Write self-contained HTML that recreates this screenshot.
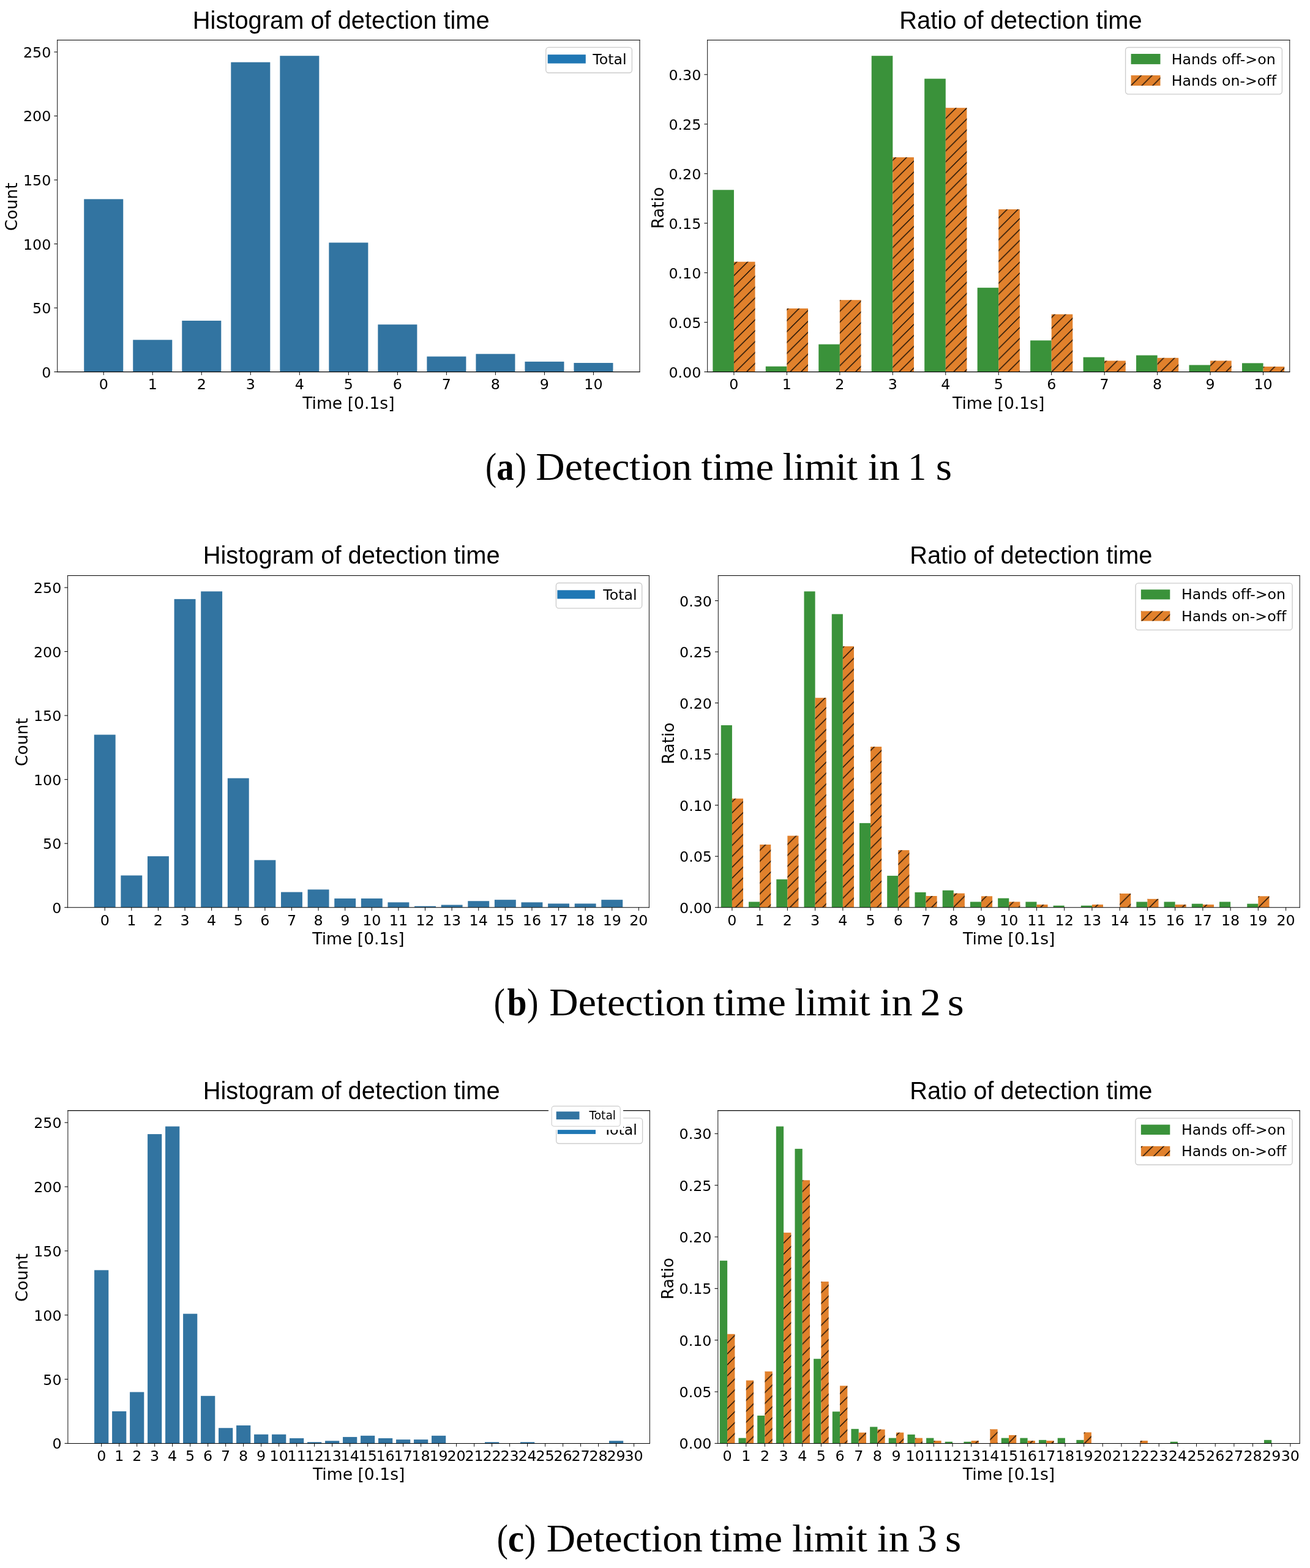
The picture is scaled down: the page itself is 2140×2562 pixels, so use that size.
<!DOCTYPE html>
<html><head><meta charset="utf-8"><title>Detection time figure</title>
<style>html,body{margin:0;padding:0;background:#fff;} body{width:2140px;height:2562px;overflow:hidden;} svg{display:block;} text{font-variant-ligatures:none;font-kerning:normal;}</style>
</head><body>
<svg width="2140" height="2562" viewBox="0 0 2140 2562"><defs><pattern id="h1" patternUnits="userSpaceOnUse" x="11.6" y="0" width="17.8" height="17.8"><path d="M-8.9,8.9 L8.9,-8.9 M0,17.8 L17.8,0 M8.9,26.700000000000003 L26.700000000000003,8.9" stroke="#000" stroke-width="1.3" fill="none"/></pattern><pattern id="h2" patternUnits="userSpaceOnUse" x="14.1" y="0" width="17.8" height="17.8"><path d="M-8.9,8.9 L8.9,-8.9 M0,17.8 L17.8,0 M8.9,26.700000000000003 L26.700000000000003,8.9" stroke="#000" stroke-width="1.3" fill="none"/></pattern><pattern id="h3" patternUnits="userSpaceOnUse" x="0.4" y="0" width="17.8" height="17.8"><path d="M-8.9,8.9 L8.9,-8.9 M0,17.8 L17.8,0 M8.9,26.700000000000003 L26.700000000000003,8.9" stroke="#000" stroke-width="1.3" fill="none"/></pattern></defs><rect width="2140" height="2562" fill="#ffffff"/><rect x="137.23" y="325.37" width="64.02" height="282.23" fill="#3274a1"/>
<rect x="217.25" y="555.33" width="64.02" height="52.27" fill="#3274a1"/>
<rect x="297.28" y="523.98" width="64.02" height="83.62" fill="#3274a1"/>
<rect x="377.3" y="101.67" width="64.02" height="505.93" fill="#3274a1"/>
<rect x="457.32" y="91.22" width="64.02" height="516.38" fill="#3274a1"/>
<rect x="537.34" y="396.45" width="64.02" height="211.15" fill="#3274a1"/>
<rect x="617.36" y="530.25" width="64.02" height="77.35" fill="#3274a1"/>
<rect x="697.38" y="582.51" width="64.02" height="25.09" fill="#3274a1"/>
<rect x="777.41" y="578.33" width="64.02" height="29.27" fill="#3274a1"/>
<rect x="857.43" y="590.88" width="64.02" height="16.72" fill="#3274a1"/>
<rect x="937.45" y="592.97" width="64.02" height="14.63" fill="#3274a1"/>
<path d="M93.23,65.4H1045.47M93.23,607.6H1045.47" stroke="#000000" stroke-width="1.05" fill="none"/>
<path d="M93.7,64.88V608.12M1045,64.88V608.12" stroke="#000000" stroke-width="0.95" fill="none"/>
<line x1="88.4" y1="607.6" x2="93.7" y2="607.6" stroke="#000000" stroke-width="1.05"/>
<text x="83.4" y="616.6" font-family='"DejaVu Sans", sans-serif' font-size="23.8" text-anchor="end">0</text>
<line x1="88.4" y1="503.07" x2="93.7" y2="503.07" stroke="#000000" stroke-width="1.05"/>
<text x="83.4" y="512.07" font-family='"DejaVu Sans", sans-serif' font-size="23.8" text-anchor="end">50</text>
<line x1="88.4" y1="398.54" x2="93.7" y2="398.54" stroke="#000000" stroke-width="1.05"/>
<text x="83.4" y="407.54" font-family='"DejaVu Sans", sans-serif' font-size="23.8" text-anchor="end">100</text>
<line x1="88.4" y1="294.01" x2="93.7" y2="294.01" stroke="#000000" stroke-width="1.05"/>
<text x="83.4" y="303.01" font-family='"DejaVu Sans", sans-serif' font-size="23.8" text-anchor="end">150</text>
<line x1="88.4" y1="189.48" x2="93.7" y2="189.48" stroke="#000000" stroke-width="1.05"/>
<text x="83.4" y="198.48" font-family='"DejaVu Sans", sans-serif' font-size="23.8" text-anchor="end">200</text>
<line x1="88.4" y1="84.95" x2="93.7" y2="84.95" stroke="#000000" stroke-width="1.05"/>
<text x="83.4" y="93.95" font-family='"DejaVu Sans", sans-serif' font-size="23.8" text-anchor="end">250</text>
<line x1="169.24" y1="607.6" x2="169.24" y2="612.9" stroke="#000000" stroke-width="0.95"/>
<text x="169.24" y="636.4" font-family='"DejaVu Sans", sans-serif' font-size="23.8" text-anchor="middle">0</text>
<line x1="249.26" y1="607.6" x2="249.26" y2="612.9" stroke="#000000" stroke-width="0.95"/>
<text x="249.26" y="636.4" font-family='"DejaVu Sans", sans-serif' font-size="23.8" text-anchor="middle">1</text>
<line x1="329.28" y1="607.6" x2="329.28" y2="612.9" stroke="#000000" stroke-width="0.95"/>
<text x="329.28" y="636.4" font-family='"DejaVu Sans", sans-serif' font-size="23.8" text-anchor="middle">2</text>
<line x1="409.31" y1="607.6" x2="409.31" y2="612.9" stroke="#000000" stroke-width="0.95"/>
<text x="409.31" y="636.4" font-family='"DejaVu Sans", sans-serif' font-size="23.8" text-anchor="middle">3</text>
<line x1="489.33" y1="607.6" x2="489.33" y2="612.9" stroke="#000000" stroke-width="0.95"/>
<text x="489.33" y="636.4" font-family='"DejaVu Sans", sans-serif' font-size="23.8" text-anchor="middle">4</text>
<line x1="569.35" y1="607.6" x2="569.35" y2="612.9" stroke="#000000" stroke-width="0.95"/>
<text x="569.35" y="636.4" font-family='"DejaVu Sans", sans-serif' font-size="23.8" text-anchor="middle">5</text>
<line x1="649.37" y1="607.6" x2="649.37" y2="612.9" stroke="#000000" stroke-width="0.95"/>
<text x="649.37" y="636.4" font-family='"DejaVu Sans", sans-serif' font-size="23.8" text-anchor="middle">6</text>
<line x1="729.39" y1="607.6" x2="729.39" y2="612.9" stroke="#000000" stroke-width="0.95"/>
<text x="729.39" y="636.4" font-family='"DejaVu Sans", sans-serif' font-size="23.8" text-anchor="middle">7</text>
<line x1="809.42" y1="607.6" x2="809.42" y2="612.9" stroke="#000000" stroke-width="0.95"/>
<text x="809.42" y="636.4" font-family='"DejaVu Sans", sans-serif' font-size="23.8" text-anchor="middle">8</text>
<line x1="889.44" y1="607.6" x2="889.44" y2="612.9" stroke="#000000" stroke-width="0.95"/>
<text x="889.44" y="636.4" font-family='"DejaVu Sans", sans-serif' font-size="23.8" text-anchor="middle">9</text>
<line x1="969.46" y1="607.6" x2="969.46" y2="612.9" stroke="#000000" stroke-width="0.95"/>
<text x="969.46" y="636.4" font-family='"DejaVu Sans", sans-serif' font-size="23.8" text-anchor="middle">10</text>
<text x="569.35" y="667.5" font-family='"DejaVu Sans", sans-serif' font-size="26.6" text-anchor="middle">Time [0.1s]</text>
<text transform="translate(27.9,337.75) rotate(-90)" font-family='"DejaVu Sans", sans-serif' font-size="26.6" text-anchor="middle">Count</text>
<rect x="1164.35" y="310.3" width="34.59" height="297.3" fill="#3a923a"/>
<rect x="1250.81" y="598.69" width="34.59" height="8.91" fill="#3a923a"/>
<rect x="1337.27" y="562.58" width="34.59" height="45.02" fill="#3a923a"/>
<rect x="1423.74" y="91.22" width="34.59" height="516.38" fill="#3a923a"/>
<rect x="1510.2" y="128.62" width="34.59" height="478.98" fill="#3a923a"/>
<rect x="1596.66" y="470.13" width="34.59" height="137.47" fill="#3a923a"/>
<rect x="1683.13" y="556.27" width="34.59" height="51.33" fill="#3a923a"/>
<rect x="1769.59" y="583.64" width="34.59" height="23.96" fill="#3a923a"/>
<rect x="1856.06" y="580.56" width="34.59" height="27.04" fill="#3a923a"/>
<rect x="1942.52" y="596.43" width="34.59" height="11.17" fill="#3a923a"/>
<rect x="2028.98" y="593.35" width="34.59" height="14.25" fill="#3a923a"/>
<rect x="1198.93" y="427.7" width="34.59" height="179.9" fill="#e1812c"/>
<rect x="1198.93" y="427.7" width="34.59" height="179.9" fill="url(#h1)"/>
<rect x="1285.4" y="503.97" width="34.59" height="103.63" fill="#e1812c"/>
<rect x="1285.4" y="503.97" width="34.59" height="103.63" fill="url(#h1)"/>
<rect x="1371.86" y="490.2" width="34.59" height="117.4" fill="#e1812c"/>
<rect x="1371.86" y="490.2" width="34.59" height="117.4" fill="url(#h1)"/>
<rect x="1458.32" y="257.03" width="34.59" height="350.57" fill="#e1812c"/>
<rect x="1458.32" y="257.03" width="34.59" height="350.57" fill="url(#h1)"/>
<rect x="1544.79" y="176.23" width="34.59" height="431.37" fill="#e1812c"/>
<rect x="1544.79" y="176.23" width="34.59" height="431.37" fill="url(#h1)"/>
<rect x="1631.25" y="342.04" width="34.59" height="265.56" fill="#e1812c"/>
<rect x="1631.25" y="342.04" width="34.59" height="265.56" fill="url(#h1)"/>
<rect x="1717.71" y="513.52" width="34.59" height="94.08" fill="#e1812c"/>
<rect x="1717.71" y="513.52" width="34.59" height="94.08" fill="url(#h1)"/>
<rect x="1804.18" y="589.46" width="34.59" height="18.14" fill="#e1812c"/>
<rect x="1804.18" y="589.46" width="34.59" height="18.14" fill="url(#h1)"/>
<rect x="1890.64" y="584.77" width="34.59" height="22.83" fill="#e1812c"/>
<rect x="1890.64" y="584.77" width="34.59" height="22.83" fill="url(#h1)"/>
<rect x="1977.1" y="589.46" width="34.59" height="18.14" fill="#e1812c"/>
<rect x="1977.1" y="589.46" width="34.59" height="18.14" fill="url(#h1)"/>
<rect x="2063.57" y="599.02" width="34.59" height="8.58" fill="#e1812c"/>
<rect x="2063.57" y="599.02" width="34.59" height="8.58" fill="url(#h1)"/>
<path d="M1155.23,65.4H2107.28M1155.23,607.6H2107.28" stroke="#000000" stroke-width="1.05" fill="none"/>
<path d="M1155.7,64.88V608.12M2106.8,64.88V608.12" stroke="#000000" stroke-width="0.95" fill="none"/>
<line x1="1150.4" y1="607.6" x2="1155.7" y2="607.6" stroke="#000000" stroke-width="1.05"/>
<text x="1145.4" y="616.6" font-family='"DejaVu Sans", sans-serif' font-size="23.8" text-anchor="end">0.00</text>
<line x1="1150.4" y1="526.64" x2="1155.7" y2="526.64" stroke="#000000" stroke-width="1.05"/>
<text x="1145.4" y="535.64" font-family='"DejaVu Sans", sans-serif' font-size="23.8" text-anchor="end">0.05</text>
<line x1="1150.4" y1="445.67" x2="1155.7" y2="445.67" stroke="#000000" stroke-width="1.05"/>
<text x="1145.4" y="454.67" font-family='"DejaVu Sans", sans-serif' font-size="23.8" text-anchor="end">0.10</text>
<line x1="1150.4" y1="364.71" x2="1155.7" y2="364.71" stroke="#000000" stroke-width="1.05"/>
<text x="1145.4" y="373.71" font-family='"DejaVu Sans", sans-serif' font-size="23.8" text-anchor="end">0.15</text>
<line x1="1150.4" y1="283.75" x2="1155.7" y2="283.75" stroke="#000000" stroke-width="1.05"/>
<text x="1145.4" y="292.75" font-family='"DejaVu Sans", sans-serif' font-size="23.8" text-anchor="end">0.20</text>
<line x1="1150.4" y1="202.79" x2="1155.7" y2="202.79" stroke="#000000" stroke-width="1.05"/>
<text x="1145.4" y="211.79" font-family='"DejaVu Sans", sans-serif' font-size="23.8" text-anchor="end">0.25</text>
<line x1="1150.4" y1="121.82" x2="1155.7" y2="121.82" stroke="#000000" stroke-width="1.05"/>
<text x="1145.4" y="130.82" font-family='"DejaVu Sans", sans-serif' font-size="23.8" text-anchor="end">0.30</text>
<line x1="1198.93" y1="607.6" x2="1198.93" y2="612.9" stroke="#000000" stroke-width="0.95"/>
<text x="1198.93" y="636.4" font-family='"DejaVu Sans", sans-serif' font-size="23.8" text-anchor="middle">0</text>
<line x1="1285.4" y1="607.6" x2="1285.4" y2="612.9" stroke="#000000" stroke-width="0.95"/>
<text x="1285.4" y="636.4" font-family='"DejaVu Sans", sans-serif' font-size="23.8" text-anchor="middle">1</text>
<line x1="1371.86" y1="607.6" x2="1371.86" y2="612.9" stroke="#000000" stroke-width="0.95"/>
<text x="1371.86" y="636.4" font-family='"DejaVu Sans", sans-serif' font-size="23.8" text-anchor="middle">2</text>
<line x1="1458.32" y1="607.6" x2="1458.32" y2="612.9" stroke="#000000" stroke-width="0.95"/>
<text x="1458.32" y="636.4" font-family='"DejaVu Sans", sans-serif' font-size="23.8" text-anchor="middle">3</text>
<line x1="1544.79" y1="607.6" x2="1544.79" y2="612.9" stroke="#000000" stroke-width="0.95"/>
<text x="1544.79" y="636.4" font-family='"DejaVu Sans", sans-serif' font-size="23.8" text-anchor="middle">4</text>
<line x1="1631.25" y1="607.6" x2="1631.25" y2="612.9" stroke="#000000" stroke-width="0.95"/>
<text x="1631.25" y="636.4" font-family='"DejaVu Sans", sans-serif' font-size="23.8" text-anchor="middle">5</text>
<line x1="1717.71" y1="607.6" x2="1717.71" y2="612.9" stroke="#000000" stroke-width="0.95"/>
<text x="1717.71" y="636.4" font-family='"DejaVu Sans", sans-serif' font-size="23.8" text-anchor="middle">6</text>
<line x1="1804.18" y1="607.6" x2="1804.18" y2="612.9" stroke="#000000" stroke-width="0.95"/>
<text x="1804.18" y="636.4" font-family='"DejaVu Sans", sans-serif' font-size="23.8" text-anchor="middle">7</text>
<line x1="1890.64" y1="607.6" x2="1890.64" y2="612.9" stroke="#000000" stroke-width="0.95"/>
<text x="1890.64" y="636.4" font-family='"DejaVu Sans", sans-serif' font-size="23.8" text-anchor="middle">8</text>
<line x1="1977.1" y1="607.6" x2="1977.1" y2="612.9" stroke="#000000" stroke-width="0.95"/>
<text x="1977.1" y="636.4" font-family='"DejaVu Sans", sans-serif' font-size="23.8" text-anchor="middle">9</text>
<line x1="2063.57" y1="607.6" x2="2063.57" y2="612.9" stroke="#000000" stroke-width="0.95"/>
<text x="2063.57" y="636.4" font-family='"DejaVu Sans", sans-serif' font-size="23.8" text-anchor="middle">10</text>
<text x="1631.25" y="667.5" font-family='"DejaVu Sans", sans-serif' font-size="26.6" text-anchor="middle">Time [0.1s]</text>
<text transform="translate(1084.2,339.7) rotate(-90)" font-family='"DejaVu Sans", sans-serif' font-size="26.6" text-anchor="middle">Ratio</text>
<rect x="153.77" y="1200.47" width="34.89" height="282.23" fill="#3274a1"/>
<rect x="197.38" y="1430.43" width="34.89" height="52.27" fill="#3274a1"/>
<rect x="240.99" y="1399.08" width="34.89" height="83.62" fill="#3274a1"/>
<rect x="284.6" y="978.86" width="34.89" height="503.84" fill="#3274a1"/>
<rect x="328.21" y="966.32" width="34.89" height="516.38" fill="#3274a1"/>
<rect x="371.82" y="1271.55" width="34.89" height="211.15" fill="#3274a1"/>
<rect x="415.43" y="1405.35" width="34.89" height="77.35" fill="#3274a1"/>
<rect x="459.03" y="1457.61" width="34.89" height="25.09" fill="#3274a1"/>
<rect x="502.64" y="1453.43" width="34.89" height="29.27" fill="#3274a1"/>
<rect x="546.25" y="1468.07" width="34.89" height="14.63" fill="#3274a1"/>
<rect x="589.86" y="1468.07" width="34.89" height="14.63" fill="#3274a1"/>
<rect x="633.47" y="1474.34" width="34.89" height="8.36" fill="#3274a1"/>
<rect x="677.08" y="1480.61" width="34.89" height="2.09" fill="#3274a1"/>
<rect x="720.69" y="1478.52" width="34.89" height="4.18" fill="#3274a1"/>
<rect x="764.3" y="1472.25" width="34.89" height="10.45" fill="#3274a1"/>
<rect x="807.9" y="1470.16" width="34.89" height="12.54" fill="#3274a1"/>
<rect x="851.51" y="1474.34" width="34.89" height="8.36" fill="#3274a1"/>
<rect x="895.12" y="1476.43" width="34.89" height="6.27" fill="#3274a1"/>
<rect x="938.73" y="1476.43" width="34.89" height="6.27" fill="#3274a1"/>
<rect x="982.34" y="1470.16" width="34.89" height="12.54" fill="#3274a1"/>
<path d="M110.12,940.5H1060.88M110.12,1482.7H1060.88" stroke="#000000" stroke-width="1.05" fill="none"/>
<path d="M110.6,939.98V1483.23M1060.4,939.98V1483.23" stroke="#000000" stroke-width="0.95" fill="none"/>
<line x1="105.3" y1="1482.7" x2="110.6" y2="1482.7" stroke="#000000" stroke-width="1.05"/>
<text x="100.3" y="1491.7" font-family='"DejaVu Sans", sans-serif' font-size="23.8" text-anchor="end">0</text>
<line x1="105.3" y1="1378.17" x2="110.6" y2="1378.17" stroke="#000000" stroke-width="1.05"/>
<text x="100.3" y="1387.17" font-family='"DejaVu Sans", sans-serif' font-size="23.8" text-anchor="end">50</text>
<line x1="105.3" y1="1273.64" x2="110.6" y2="1273.64" stroke="#000000" stroke-width="1.05"/>
<text x="100.3" y="1282.64" font-family='"DejaVu Sans", sans-serif' font-size="23.8" text-anchor="end">100</text>
<line x1="105.3" y1="1169.11" x2="110.6" y2="1169.11" stroke="#000000" stroke-width="1.05"/>
<text x="100.3" y="1178.11" font-family='"DejaVu Sans", sans-serif' font-size="23.8" text-anchor="end">150</text>
<line x1="105.3" y1="1064.58" x2="110.6" y2="1064.58" stroke="#000000" stroke-width="1.05"/>
<text x="100.3" y="1073.58" font-family='"DejaVu Sans", sans-serif' font-size="23.8" text-anchor="end">200</text>
<line x1="105.3" y1="960.05" x2="110.6" y2="960.05" stroke="#000000" stroke-width="1.05"/>
<text x="100.3" y="969.05" font-family='"DejaVu Sans", sans-serif' font-size="23.8" text-anchor="end">250</text>
<line x1="171.22" y1="1482.7" x2="171.22" y2="1488" stroke="#000000" stroke-width="0.95"/>
<text x="171.22" y="1511.5" font-family='"DejaVu Sans", sans-serif' font-size="23.8" text-anchor="middle">0</text>
<line x1="214.83" y1="1482.7" x2="214.83" y2="1488" stroke="#000000" stroke-width="0.95"/>
<text x="214.83" y="1511.5" font-family='"DejaVu Sans", sans-serif' font-size="23.8" text-anchor="middle">1</text>
<line x1="258.43" y1="1482.7" x2="258.43" y2="1488" stroke="#000000" stroke-width="0.95"/>
<text x="258.43" y="1511.5" font-family='"DejaVu Sans", sans-serif' font-size="23.8" text-anchor="middle">2</text>
<line x1="302.04" y1="1482.7" x2="302.04" y2="1488" stroke="#000000" stroke-width="0.95"/>
<text x="302.04" y="1511.5" font-family='"DejaVu Sans", sans-serif' font-size="23.8" text-anchor="middle">3</text>
<line x1="345.65" y1="1482.7" x2="345.65" y2="1488" stroke="#000000" stroke-width="0.95"/>
<text x="345.65" y="1511.5" font-family='"DejaVu Sans", sans-serif' font-size="23.8" text-anchor="middle">4</text>
<line x1="389.26" y1="1482.7" x2="389.26" y2="1488" stroke="#000000" stroke-width="0.95"/>
<text x="389.26" y="1511.5" font-family='"DejaVu Sans", sans-serif' font-size="23.8" text-anchor="middle">5</text>
<line x1="432.87" y1="1482.7" x2="432.87" y2="1488" stroke="#000000" stroke-width="0.95"/>
<text x="432.87" y="1511.5" font-family='"DejaVu Sans", sans-serif' font-size="23.8" text-anchor="middle">6</text>
<line x1="476.48" y1="1482.7" x2="476.48" y2="1488" stroke="#000000" stroke-width="0.95"/>
<text x="476.48" y="1511.5" font-family='"DejaVu Sans", sans-serif' font-size="23.8" text-anchor="middle">7</text>
<line x1="520.09" y1="1482.7" x2="520.09" y2="1488" stroke="#000000" stroke-width="0.95"/>
<text x="520.09" y="1511.5" font-family='"DejaVu Sans", sans-serif' font-size="23.8" text-anchor="middle">8</text>
<line x1="563.7" y1="1482.7" x2="563.7" y2="1488" stroke="#000000" stroke-width="0.95"/>
<text x="563.7" y="1511.5" font-family='"DejaVu Sans", sans-serif' font-size="23.8" text-anchor="middle">9</text>
<line x1="607.3" y1="1482.7" x2="607.3" y2="1488" stroke="#000000" stroke-width="0.95"/>
<text x="607.3" y="1511.5" font-family='"DejaVu Sans", sans-serif' font-size="23.8" text-anchor="middle">10</text>
<line x1="650.91" y1="1482.7" x2="650.91" y2="1488" stroke="#000000" stroke-width="0.95"/>
<text x="650.91" y="1511.5" font-family='"DejaVu Sans", sans-serif' font-size="23.8" text-anchor="middle">11</text>
<line x1="694.52" y1="1482.7" x2="694.52" y2="1488" stroke="#000000" stroke-width="0.95"/>
<text x="694.52" y="1511.5" font-family='"DejaVu Sans", sans-serif' font-size="23.8" text-anchor="middle">12</text>
<line x1="738.13" y1="1482.7" x2="738.13" y2="1488" stroke="#000000" stroke-width="0.95"/>
<text x="738.13" y="1511.5" font-family='"DejaVu Sans", sans-serif' font-size="23.8" text-anchor="middle">13</text>
<line x1="781.74" y1="1482.7" x2="781.74" y2="1488" stroke="#000000" stroke-width="0.95"/>
<text x="781.74" y="1511.5" font-family='"DejaVu Sans", sans-serif' font-size="23.8" text-anchor="middle">14</text>
<line x1="825.35" y1="1482.7" x2="825.35" y2="1488" stroke="#000000" stroke-width="0.95"/>
<text x="825.35" y="1511.5" font-family='"DejaVu Sans", sans-serif' font-size="23.8" text-anchor="middle">15</text>
<line x1="868.96" y1="1482.7" x2="868.96" y2="1488" stroke="#000000" stroke-width="0.95"/>
<text x="868.96" y="1511.5" font-family='"DejaVu Sans", sans-serif' font-size="23.8" text-anchor="middle">16</text>
<line x1="912.57" y1="1482.7" x2="912.57" y2="1488" stroke="#000000" stroke-width="0.95"/>
<text x="912.57" y="1511.5" font-family='"DejaVu Sans", sans-serif' font-size="23.8" text-anchor="middle">17</text>
<line x1="956.17" y1="1482.7" x2="956.17" y2="1488" stroke="#000000" stroke-width="0.95"/>
<text x="956.17" y="1511.5" font-family='"DejaVu Sans", sans-serif' font-size="23.8" text-anchor="middle">18</text>
<line x1="999.78" y1="1482.7" x2="999.78" y2="1488" stroke="#000000" stroke-width="0.95"/>
<text x="999.78" y="1511.5" font-family='"DejaVu Sans", sans-serif' font-size="23.8" text-anchor="middle">19</text>
<line x1="1043.39" y1="1482.7" x2="1043.39" y2="1488" stroke="#000000" stroke-width="0.95"/>
<text x="1043.39" y="1511.5" font-family='"DejaVu Sans", sans-serif' font-size="23.8" text-anchor="middle">20</text>
<text x="585.5" y="1542.6" font-family='"DejaVu Sans", sans-serif' font-size="26.6" text-anchor="middle">Time [0.1s]</text>
<text transform="translate(44.8,1212.6) rotate(-90)" font-family='"DejaVu Sans", sans-serif' font-size="26.6" text-anchor="middle">Count</text>
<rect x="1177.82" y="1185" width="18.09" height="297.7" fill="#3a923a"/>
<rect x="1223.06" y="1473.51" width="18.09" height="9.19" fill="#3a923a"/>
<rect x="1268.29" y="1436.76" width="18.09" height="45.94" fill="#3a923a"/>
<rect x="1313.52" y="966.32" width="18.09" height="516.38" fill="#3a923a"/>
<rect x="1358.76" y="1003.41" width="18.09" height="479.29" fill="#3a923a"/>
<rect x="1403.99" y="1344.88" width="18.09" height="137.82" fill="#3a923a"/>
<rect x="1449.22" y="1430.91" width="18.09" height="51.79" fill="#3a923a"/>
<rect x="1494.46" y="1457.98" width="18.09" height="24.72" fill="#3a923a"/>
<rect x="1539.69" y="1454.8" width="18.09" height="27.9" fill="#3a923a"/>
<rect x="1584.92" y="1473.51" width="18.09" height="9.19" fill="#3a923a"/>
<rect x="1630.16" y="1467.66" width="18.09" height="15.04" fill="#3a923a"/>
<rect x="1675.39" y="1473.51" width="18.09" height="9.19" fill="#3a923a"/>
<rect x="1720.62" y="1479.69" width="18.09" height="3.01" fill="#3a923a"/>
<rect x="1765.86" y="1479.69" width="18.09" height="3.01" fill="#3a923a"/>
<rect x="1856.32" y="1473.51" width="18.09" height="9.19" fill="#3a923a"/>
<rect x="1901.56" y="1473.51" width="18.09" height="9.19" fill="#3a923a"/>
<rect x="1946.79" y="1476.69" width="18.09" height="6.01" fill="#3a923a"/>
<rect x="1992.02" y="1473.51" width="18.09" height="9.19" fill="#3a923a"/>
<rect x="2037.26" y="1476.69" width="18.09" height="6.01" fill="#3a923a"/>
<rect x="1195.92" y="1304.78" width="18.09" height="177.92" fill="#e1812c"/>
<rect x="1195.92" y="1304.78" width="18.09" height="177.92" fill="url(#h2)"/>
<rect x="1241.15" y="1379.96" width="18.09" height="102.74" fill="#e1812c"/>
<rect x="1241.15" y="1379.96" width="18.09" height="102.74" fill="url(#h2)"/>
<rect x="1286.38" y="1365.59" width="18.09" height="117.11" fill="#e1812c"/>
<rect x="1286.38" y="1365.59" width="18.09" height="117.11" fill="url(#h2)"/>
<rect x="1331.62" y="1140.23" width="18.09" height="342.47" fill="#e1812c"/>
<rect x="1331.62" y="1140.23" width="18.09" height="342.47" fill="url(#h2)"/>
<rect x="1376.85" y="1056.03" width="18.09" height="426.67" fill="#e1812c"/>
<rect x="1376.85" y="1056.03" width="18.09" height="426.67" fill="url(#h2)"/>
<rect x="1422.08" y="1220.08" width="18.09" height="262.62" fill="#e1812c"/>
<rect x="1422.08" y="1220.08" width="18.09" height="262.62" fill="url(#h2)"/>
<rect x="1467.32" y="1389.15" width="18.09" height="93.55" fill="#e1812c"/>
<rect x="1467.32" y="1389.15" width="18.09" height="93.55" fill="url(#h2)"/>
<rect x="1512.55" y="1463.99" width="18.09" height="18.71" fill="#e1812c"/>
<rect x="1512.55" y="1463.99" width="18.09" height="18.71" fill="url(#h2)"/>
<rect x="1557.78" y="1459.65" width="18.09" height="23.05" fill="#e1812c"/>
<rect x="1557.78" y="1459.65" width="18.09" height="23.05" fill="url(#h2)"/>
<rect x="1603.02" y="1464.32" width="18.09" height="18.38" fill="#e1812c"/>
<rect x="1603.02" y="1464.32" width="18.09" height="18.38" fill="url(#h2)"/>
<rect x="1648.25" y="1473.51" width="18.09" height="9.19" fill="#e1812c"/>
<rect x="1648.25" y="1473.51" width="18.09" height="9.19" fill="url(#h2)"/>
<rect x="1693.48" y="1478.02" width="18.09" height="4.68" fill="#e1812c"/>
<rect x="1693.48" y="1478.02" width="18.09" height="4.68" fill="url(#h2)"/>
<rect x="1783.95" y="1478.02" width="18.09" height="4.68" fill="#e1812c"/>
<rect x="1783.95" y="1478.02" width="18.09" height="4.68" fill="url(#h2)"/>
<rect x="1829.18" y="1459.98" width="18.09" height="22.72" fill="#e1812c"/>
<rect x="1829.18" y="1459.98" width="18.09" height="22.72" fill="url(#h2)"/>
<rect x="1874.42" y="1468.83" width="18.09" height="13.87" fill="#e1812c"/>
<rect x="1874.42" y="1468.83" width="18.09" height="13.87" fill="url(#h2)"/>
<rect x="1919.65" y="1478.02" width="18.09" height="4.68" fill="#e1812c"/>
<rect x="1919.65" y="1478.02" width="18.09" height="4.68" fill="url(#h2)"/>
<rect x="1964.88" y="1478.02" width="18.09" height="4.68" fill="#e1812c"/>
<rect x="1964.88" y="1478.02" width="18.09" height="4.68" fill="url(#h2)"/>
<rect x="2055.35" y="1464.32" width="18.09" height="18.38" fill="#e1812c"/>
<rect x="2055.35" y="1464.32" width="18.09" height="18.38" fill="url(#h2)"/>
<path d="M1172.83,940.5H2123.67M1172.83,1482.7H2123.67" stroke="#000000" stroke-width="1.05" fill="none"/>
<path d="M1173.3,939.98V1483.23M2123.2,939.98V1483.23" stroke="#000000" stroke-width="0.95" fill="none"/>
<line x1="1168" y1="1482.7" x2="1173.3" y2="1482.7" stroke="#000000" stroke-width="1.05"/>
<text x="1163" y="1491.7" font-family='"DejaVu Sans", sans-serif' font-size="23.8" text-anchor="end">0.00</text>
<line x1="1168" y1="1399.17" x2="1173.3" y2="1399.17" stroke="#000000" stroke-width="1.05"/>
<text x="1163" y="1408.17" font-family='"DejaVu Sans", sans-serif' font-size="23.8" text-anchor="end">0.05</text>
<line x1="1168" y1="1315.64" x2="1173.3" y2="1315.64" stroke="#000000" stroke-width="1.05"/>
<text x="1163" y="1324.64" font-family='"DejaVu Sans", sans-serif' font-size="23.8" text-anchor="end">0.10</text>
<line x1="1168" y1="1232.11" x2="1173.3" y2="1232.11" stroke="#000000" stroke-width="1.05"/>
<text x="1163" y="1241.11" font-family='"DejaVu Sans", sans-serif' font-size="23.8" text-anchor="end">0.15</text>
<line x1="1168" y1="1148.58" x2="1173.3" y2="1148.58" stroke="#000000" stroke-width="1.05"/>
<text x="1163" y="1157.58" font-family='"DejaVu Sans", sans-serif' font-size="23.8" text-anchor="end">0.20</text>
<line x1="1168" y1="1065.05" x2="1173.3" y2="1065.05" stroke="#000000" stroke-width="1.05"/>
<text x="1163" y="1074.05" font-family='"DejaVu Sans", sans-serif' font-size="23.8" text-anchor="end">0.25</text>
<line x1="1168" y1="981.52" x2="1173.3" y2="981.52" stroke="#000000" stroke-width="1.05"/>
<text x="1163" y="990.52" font-family='"DejaVu Sans", sans-serif' font-size="23.8" text-anchor="end">0.30</text>
<line x1="1195.92" y1="1482.7" x2="1195.92" y2="1488" stroke="#000000" stroke-width="0.95"/>
<text x="1195.92" y="1511.5" font-family='"DejaVu Sans", sans-serif' font-size="23.8" text-anchor="middle">0</text>
<line x1="1241.15" y1="1482.7" x2="1241.15" y2="1488" stroke="#000000" stroke-width="0.95"/>
<text x="1241.15" y="1511.5" font-family='"DejaVu Sans", sans-serif' font-size="23.8" text-anchor="middle">1</text>
<line x1="1286.38" y1="1482.7" x2="1286.38" y2="1488" stroke="#000000" stroke-width="0.95"/>
<text x="1286.38" y="1511.5" font-family='"DejaVu Sans", sans-serif' font-size="23.8" text-anchor="middle">2</text>
<line x1="1331.62" y1="1482.7" x2="1331.62" y2="1488" stroke="#000000" stroke-width="0.95"/>
<text x="1331.62" y="1511.5" font-family='"DejaVu Sans", sans-serif' font-size="23.8" text-anchor="middle">3</text>
<line x1="1376.85" y1="1482.7" x2="1376.85" y2="1488" stroke="#000000" stroke-width="0.95"/>
<text x="1376.85" y="1511.5" font-family='"DejaVu Sans", sans-serif' font-size="23.8" text-anchor="middle">4</text>
<line x1="1422.08" y1="1482.7" x2="1422.08" y2="1488" stroke="#000000" stroke-width="0.95"/>
<text x="1422.08" y="1511.5" font-family='"DejaVu Sans", sans-serif' font-size="23.8" text-anchor="middle">5</text>
<line x1="1467.32" y1="1482.7" x2="1467.32" y2="1488" stroke="#000000" stroke-width="0.95"/>
<text x="1467.32" y="1511.5" font-family='"DejaVu Sans", sans-serif' font-size="23.8" text-anchor="middle">6</text>
<line x1="1512.55" y1="1482.7" x2="1512.55" y2="1488" stroke="#000000" stroke-width="0.95"/>
<text x="1512.55" y="1511.5" font-family='"DejaVu Sans", sans-serif' font-size="23.8" text-anchor="middle">7</text>
<line x1="1557.78" y1="1482.7" x2="1557.78" y2="1488" stroke="#000000" stroke-width="0.95"/>
<text x="1557.78" y="1511.5" font-family='"DejaVu Sans", sans-serif' font-size="23.8" text-anchor="middle">8</text>
<line x1="1603.02" y1="1482.7" x2="1603.02" y2="1488" stroke="#000000" stroke-width="0.95"/>
<text x="1603.02" y="1511.5" font-family='"DejaVu Sans", sans-serif' font-size="23.8" text-anchor="middle">9</text>
<line x1="1648.25" y1="1482.7" x2="1648.25" y2="1488" stroke="#000000" stroke-width="0.95"/>
<text x="1648.25" y="1511.5" font-family='"DejaVu Sans", sans-serif' font-size="23.8" text-anchor="middle">10</text>
<line x1="1693.48" y1="1482.7" x2="1693.48" y2="1488" stroke="#000000" stroke-width="0.95"/>
<text x="1693.48" y="1511.5" font-family='"DejaVu Sans", sans-serif' font-size="23.8" text-anchor="middle">11</text>
<line x1="1738.72" y1="1482.7" x2="1738.72" y2="1488" stroke="#000000" stroke-width="0.95"/>
<text x="1738.72" y="1511.5" font-family='"DejaVu Sans", sans-serif' font-size="23.8" text-anchor="middle">12</text>
<line x1="1783.95" y1="1482.7" x2="1783.95" y2="1488" stroke="#000000" stroke-width="0.95"/>
<text x="1783.95" y="1511.5" font-family='"DejaVu Sans", sans-serif' font-size="23.8" text-anchor="middle">13</text>
<line x1="1829.18" y1="1482.7" x2="1829.18" y2="1488" stroke="#000000" stroke-width="0.95"/>
<text x="1829.18" y="1511.5" font-family='"DejaVu Sans", sans-serif' font-size="23.8" text-anchor="middle">14</text>
<line x1="1874.42" y1="1482.7" x2="1874.42" y2="1488" stroke="#000000" stroke-width="0.95"/>
<text x="1874.42" y="1511.5" font-family='"DejaVu Sans", sans-serif' font-size="23.8" text-anchor="middle">15</text>
<line x1="1919.65" y1="1482.7" x2="1919.65" y2="1488" stroke="#000000" stroke-width="0.95"/>
<text x="1919.65" y="1511.5" font-family='"DejaVu Sans", sans-serif' font-size="23.8" text-anchor="middle">16</text>
<line x1="1964.88" y1="1482.7" x2="1964.88" y2="1488" stroke="#000000" stroke-width="0.95"/>
<text x="1964.88" y="1511.5" font-family='"DejaVu Sans", sans-serif' font-size="23.8" text-anchor="middle">17</text>
<line x1="2010.12" y1="1482.7" x2="2010.12" y2="1488" stroke="#000000" stroke-width="0.95"/>
<text x="2010.12" y="1511.5" font-family='"DejaVu Sans", sans-serif' font-size="23.8" text-anchor="middle">18</text>
<line x1="2055.35" y1="1482.7" x2="2055.35" y2="1488" stroke="#000000" stroke-width="0.95"/>
<text x="2055.35" y="1511.5" font-family='"DejaVu Sans", sans-serif' font-size="23.8" text-anchor="middle">19</text>
<line x1="2100.58" y1="1482.7" x2="2100.58" y2="1488" stroke="#000000" stroke-width="0.95"/>
<text x="2100.58" y="1511.5" font-family='"DejaVu Sans", sans-serif' font-size="23.8" text-anchor="middle">20</text>
<text x="1648.25" y="1542.6" font-family='"DejaVu Sans", sans-serif' font-size="26.6" text-anchor="middle">Time [0.1s]</text>
<text transform="translate(1100.6,1214.6) rotate(-90)" font-family='"DejaVu Sans", sans-serif' font-size="26.6" text-anchor="middle">Ratio</text>
<rect x="154.1" y="2075.33" width="23.2" height="283.07" fill="#3274a1"/>
<rect x="183.1" y="2305.98" width="23.2" height="52.42" fill="#3274a1"/>
<rect x="212.1" y="2274.53" width="23.2" height="83.87" fill="#3274a1"/>
<rect x="241.09" y="1853.08" width="23.2" height="505.32" fill="#3274a1"/>
<rect x="270.09" y="1840.5" width="23.2" height="517.9" fill="#3274a1"/>
<rect x="299.09" y="2146.63" width="23.2" height="211.77" fill="#3274a1"/>
<rect x="328.08" y="2280.82" width="23.2" height="77.58" fill="#3274a1"/>
<rect x="357.08" y="2333.24" width="23.2" height="25.16" fill="#3274a1"/>
<rect x="386.08" y="2329.05" width="23.2" height="29.35" fill="#3274a1"/>
<rect x="415.07" y="2343.72" width="23.2" height="14.68" fill="#3274a1"/>
<rect x="444.07" y="2343.72" width="23.2" height="14.68" fill="#3274a1"/>
<rect x="473.06" y="2350.01" width="23.2" height="8.39" fill="#3274a1"/>
<rect x="502.06" y="2356.3" width="23.2" height="2.1" fill="#3274a1"/>
<rect x="531.06" y="2354.21" width="23.2" height="4.19" fill="#3274a1"/>
<rect x="560.05" y="2347.92" width="23.2" height="10.48" fill="#3274a1"/>
<rect x="589.05" y="2345.82" width="23.2" height="12.58" fill="#3274a1"/>
<rect x="618.05" y="2350.01" width="23.2" height="8.39" fill="#3274a1"/>
<rect x="647.04" y="2352.11" width="23.2" height="6.29" fill="#3274a1"/>
<rect x="676.04" y="2352.11" width="23.2" height="6.29" fill="#3274a1"/>
<rect x="705.03" y="2345.82" width="23.2" height="12.58" fill="#3274a1"/>
<rect x="792.02" y="2356.3" width="23.2" height="2.1" fill="#3274a1"/>
<rect x="850.02" y="2356.3" width="23.2" height="2.1" fill="#3274a1"/>
<rect x="995" y="2354.21" width="23.2" height="4.19" fill="#3274a1"/>
<path d="M110.43,1814.6H1061.88M110.43,2358.4H1061.88" stroke="#000000" stroke-width="1.05" fill="none"/>
<path d="M110.9,1814.07V2358.93M1061.4,1814.07V2358.93" stroke="#000000" stroke-width="0.95" fill="none"/>
<line x1="105.6" y1="2358.4" x2="110.9" y2="2358.4" stroke="#000000" stroke-width="1.05"/>
<text x="100.6" y="2367.4" font-family='"DejaVu Sans", sans-serif' font-size="23.8" text-anchor="end">0</text>
<line x1="105.6" y1="2253.56" x2="110.9" y2="2253.56" stroke="#000000" stroke-width="1.05"/>
<text x="100.6" y="2262.56" font-family='"DejaVu Sans", sans-serif' font-size="23.8" text-anchor="end">50</text>
<line x1="105.6" y1="2148.72" x2="110.9" y2="2148.72" stroke="#000000" stroke-width="1.05"/>
<text x="100.6" y="2157.72" font-family='"DejaVu Sans", sans-serif' font-size="23.8" text-anchor="end">100</text>
<line x1="105.6" y1="2043.88" x2="110.9" y2="2043.88" stroke="#000000" stroke-width="1.05"/>
<text x="100.6" y="2052.88" font-family='"DejaVu Sans", sans-serif' font-size="23.8" text-anchor="end">150</text>
<line x1="105.6" y1="1939.04" x2="110.9" y2="1939.04" stroke="#000000" stroke-width="1.05"/>
<text x="100.6" y="1948.04" font-family='"DejaVu Sans", sans-serif' font-size="23.8" text-anchor="end">200</text>
<line x1="105.6" y1="1834.2" x2="110.9" y2="1834.2" stroke="#000000" stroke-width="1.05"/>
<text x="100.6" y="1843.2" font-family='"DejaVu Sans", sans-serif' font-size="23.8" text-anchor="end">250</text>
<line x1="165.7" y1="2358.4" x2="165.7" y2="2363.7" stroke="#000000" stroke-width="0.95"/>
<text x="165.7" y="2387.2" font-family='"DejaVu Sans", sans-serif' font-size="23.8" text-anchor="middle">0</text>
<line x1="194.7" y1="2358.4" x2="194.7" y2="2363.7" stroke="#000000" stroke-width="0.95"/>
<text x="194.7" y="2387.2" font-family='"DejaVu Sans", sans-serif' font-size="23.8" text-anchor="middle">1</text>
<line x1="223.7" y1="2358.4" x2="223.7" y2="2363.7" stroke="#000000" stroke-width="0.95"/>
<text x="223.7" y="2387.2" font-family='"DejaVu Sans", sans-serif' font-size="23.8" text-anchor="middle">2</text>
<line x1="252.69" y1="2358.4" x2="252.69" y2="2363.7" stroke="#000000" stroke-width="0.95"/>
<text x="252.69" y="2387.2" font-family='"DejaVu Sans", sans-serif' font-size="23.8" text-anchor="middle">3</text>
<line x1="281.69" y1="2358.4" x2="281.69" y2="2363.7" stroke="#000000" stroke-width="0.95"/>
<text x="281.69" y="2387.2" font-family='"DejaVu Sans", sans-serif' font-size="23.8" text-anchor="middle">4</text>
<line x1="310.68" y1="2358.4" x2="310.68" y2="2363.7" stroke="#000000" stroke-width="0.95"/>
<text x="310.68" y="2387.2" font-family='"DejaVu Sans", sans-serif' font-size="23.8" text-anchor="middle">5</text>
<line x1="339.68" y1="2358.4" x2="339.68" y2="2363.7" stroke="#000000" stroke-width="0.95"/>
<text x="339.68" y="2387.2" font-family='"DejaVu Sans", sans-serif' font-size="23.8" text-anchor="middle">6</text>
<line x1="368.68" y1="2358.4" x2="368.68" y2="2363.7" stroke="#000000" stroke-width="0.95"/>
<text x="368.68" y="2387.2" font-family='"DejaVu Sans", sans-serif' font-size="23.8" text-anchor="middle">7</text>
<line x1="397.67" y1="2358.4" x2="397.67" y2="2363.7" stroke="#000000" stroke-width="0.95"/>
<text x="397.67" y="2387.2" font-family='"DejaVu Sans", sans-serif' font-size="23.8" text-anchor="middle">8</text>
<line x1="426.67" y1="2358.4" x2="426.67" y2="2363.7" stroke="#000000" stroke-width="0.95"/>
<text x="426.67" y="2387.2" font-family='"DejaVu Sans", sans-serif' font-size="23.8" text-anchor="middle">9</text>
<line x1="455.67" y1="2358.4" x2="455.67" y2="2363.7" stroke="#000000" stroke-width="0.95"/>
<text x="455.67" y="2387.2" font-family='"DejaVu Sans", sans-serif' font-size="23.8" text-anchor="middle">10</text>
<line x1="484.66" y1="2358.4" x2="484.66" y2="2363.7" stroke="#000000" stroke-width="0.95"/>
<text x="484.66" y="2387.2" font-family='"DejaVu Sans", sans-serif' font-size="23.8" text-anchor="middle">11</text>
<line x1="513.66" y1="2358.4" x2="513.66" y2="2363.7" stroke="#000000" stroke-width="0.95"/>
<text x="513.66" y="2387.2" font-family='"DejaVu Sans", sans-serif' font-size="23.8" text-anchor="middle">12</text>
<line x1="542.66" y1="2358.4" x2="542.66" y2="2363.7" stroke="#000000" stroke-width="0.95"/>
<text x="542.66" y="2387.2" font-family='"DejaVu Sans", sans-serif' font-size="23.8" text-anchor="middle">13</text>
<line x1="571.65" y1="2358.4" x2="571.65" y2="2363.7" stroke="#000000" stroke-width="0.95"/>
<text x="571.65" y="2387.2" font-family='"DejaVu Sans", sans-serif' font-size="23.8" text-anchor="middle">14</text>
<line x1="600.65" y1="2358.4" x2="600.65" y2="2363.7" stroke="#000000" stroke-width="0.95"/>
<text x="600.65" y="2387.2" font-family='"DejaVu Sans", sans-serif' font-size="23.8" text-anchor="middle">15</text>
<line x1="629.64" y1="2358.4" x2="629.64" y2="2363.7" stroke="#000000" stroke-width="0.95"/>
<text x="629.64" y="2387.2" font-family='"DejaVu Sans", sans-serif' font-size="23.8" text-anchor="middle">16</text>
<line x1="658.64" y1="2358.4" x2="658.64" y2="2363.7" stroke="#000000" stroke-width="0.95"/>
<text x="658.64" y="2387.2" font-family='"DejaVu Sans", sans-serif' font-size="23.8" text-anchor="middle">17</text>
<line x1="687.64" y1="2358.4" x2="687.64" y2="2363.7" stroke="#000000" stroke-width="0.95"/>
<text x="687.64" y="2387.2" font-family='"DejaVu Sans", sans-serif' font-size="23.8" text-anchor="middle">18</text>
<line x1="716.63" y1="2358.4" x2="716.63" y2="2363.7" stroke="#000000" stroke-width="0.95"/>
<text x="716.63" y="2387.2" font-family='"DejaVu Sans", sans-serif' font-size="23.8" text-anchor="middle">19</text>
<line x1="745.63" y1="2358.4" x2="745.63" y2="2363.7" stroke="#000000" stroke-width="0.95"/>
<text x="745.63" y="2387.2" font-family='"DejaVu Sans", sans-serif' font-size="23.8" text-anchor="middle">20</text>
<line x1="774.63" y1="2358.4" x2="774.63" y2="2363.7" stroke="#000000" stroke-width="0.95"/>
<text x="774.63" y="2387.2" font-family='"DejaVu Sans", sans-serif' font-size="23.8" text-anchor="middle">21</text>
<line x1="803.62" y1="2358.4" x2="803.62" y2="2363.7" stroke="#000000" stroke-width="0.95"/>
<text x="803.62" y="2387.2" font-family='"DejaVu Sans", sans-serif' font-size="23.8" text-anchor="middle">22</text>
<line x1="832.62" y1="2358.4" x2="832.62" y2="2363.7" stroke="#000000" stroke-width="0.95"/>
<text x="832.62" y="2387.2" font-family='"DejaVu Sans", sans-serif' font-size="23.8" text-anchor="middle">23</text>
<line x1="861.62" y1="2358.4" x2="861.62" y2="2363.7" stroke="#000000" stroke-width="0.95"/>
<text x="861.62" y="2387.2" font-family='"DejaVu Sans", sans-serif' font-size="23.8" text-anchor="middle">24</text>
<line x1="890.61" y1="2358.4" x2="890.61" y2="2363.7" stroke="#000000" stroke-width="0.95"/>
<text x="890.61" y="2387.2" font-family='"DejaVu Sans", sans-serif' font-size="23.8" text-anchor="middle">25</text>
<line x1="919.61" y1="2358.4" x2="919.61" y2="2363.7" stroke="#000000" stroke-width="0.95"/>
<text x="919.61" y="2387.2" font-family='"DejaVu Sans", sans-serif' font-size="23.8" text-anchor="middle">26</text>
<line x1="948.6" y1="2358.4" x2="948.6" y2="2363.7" stroke="#000000" stroke-width="0.95"/>
<text x="948.6" y="2387.2" font-family='"DejaVu Sans", sans-serif' font-size="23.8" text-anchor="middle">27</text>
<line x1="977.6" y1="2358.4" x2="977.6" y2="2363.7" stroke="#000000" stroke-width="0.95"/>
<text x="977.6" y="2387.2" font-family='"DejaVu Sans", sans-serif' font-size="23.8" text-anchor="middle">28</text>
<line x1="1006.6" y1="2358.4" x2="1006.6" y2="2363.7" stroke="#000000" stroke-width="0.95"/>
<text x="1006.6" y="2387.2" font-family='"DejaVu Sans", sans-serif' font-size="23.8" text-anchor="middle">29</text>
<line x1="1035.59" y1="2358.4" x2="1035.59" y2="2363.7" stroke="#000000" stroke-width="0.95"/>
<text x="1035.59" y="2387.2" font-family='"DejaVu Sans", sans-serif' font-size="23.8" text-anchor="middle">30</text>
<text x="586.15" y="2418.3" font-family='"DejaVu Sans", sans-serif' font-size="26.6" text-anchor="middle">Time [0.1s]</text>
<text transform="translate(44.8,2087.5) rotate(-90)" font-family='"DejaVu Sans", sans-serif' font-size="26.6" text-anchor="middle">Count</text>
<rect x="1175.87" y="2059.8" width="12.26" height="298.6" fill="#3a923a"/>
<rect x="1206.52" y="2349.63" width="12.26" height="8.77" fill="#3a923a"/>
<rect x="1237.18" y="2313.02" width="12.26" height="45.38" fill="#3a923a"/>
<rect x="1267.84" y="1840.5" width="12.26" height="517.9" fill="#3a923a"/>
<rect x="1298.5" y="1877.1" width="12.26" height="481.3" fill="#3a923a"/>
<rect x="1329.16" y="2220.24" width="12.26" height="138.16" fill="#3a923a"/>
<rect x="1359.81" y="2306.44" width="12.26" height="51.96" fill="#3a923a"/>
<rect x="1390.47" y="2334.78" width="12.26" height="23.62" fill="#3a923a"/>
<rect x="1421.13" y="2331.41" width="12.26" height="26.99" fill="#3a923a"/>
<rect x="1451.79" y="2349.63" width="12.26" height="8.77" fill="#3a923a"/>
<rect x="1482.45" y="2343.89" width="12.26" height="14.51" fill="#3a923a"/>
<rect x="1513.1" y="2349.63" width="12.26" height="8.77" fill="#3a923a"/>
<rect x="1543.76" y="2355.7" width="12.26" height="2.7" fill="#3a923a"/>
<rect x="1574.42" y="2355.7" width="12.26" height="2.7" fill="#3a923a"/>
<rect x="1635.74" y="2349.63" width="12.26" height="8.77" fill="#3a923a"/>
<rect x="1666.39" y="2349.63" width="12.26" height="8.77" fill="#3a923a"/>
<rect x="1697.05" y="2352.83" width="12.26" height="5.57" fill="#3a923a"/>
<rect x="1727.71" y="2349.63" width="12.26" height="8.77" fill="#3a923a"/>
<rect x="1758.37" y="2352.83" width="12.26" height="5.57" fill="#3a923a"/>
<rect x="1911.66" y="2355.7" width="12.26" height="2.7" fill="#3a923a"/>
<rect x="2064.95" y="2352.83" width="12.26" height="5.57" fill="#3a923a"/>
<rect x="1188.13" y="2179.75" width="12.26" height="178.65" fill="#e1812c"/>
<rect x="1188.13" y="2179.75" width="12.26" height="178.65" fill="url(#h3)"/>
<rect x="1218.79" y="2255.49" width="12.26" height="102.91" fill="#e1812c"/>
<rect x="1218.79" y="2255.49" width="12.26" height="102.91" fill="url(#h3)"/>
<rect x="1249.45" y="2240.82" width="12.26" height="117.58" fill="#e1812c"/>
<rect x="1249.45" y="2240.82" width="12.26" height="117.58" fill="url(#h3)"/>
<rect x="1280.1" y="2014.09" width="12.26" height="344.31" fill="#e1812c"/>
<rect x="1280.1" y="2014.09" width="12.26" height="344.31" fill="url(#h3)"/>
<rect x="1310.76" y="1928.39" width="12.26" height="430.01" fill="#e1812c"/>
<rect x="1310.76" y="1928.39" width="12.26" height="430.01" fill="url(#h3)"/>
<rect x="1341.42" y="2094.05" width="12.26" height="264.35" fill="#e1812c"/>
<rect x="1341.42" y="2094.05" width="12.26" height="264.35" fill="url(#h3)"/>
<rect x="1372.08" y="2264.27" width="12.26" height="94.13" fill="#e1812c"/>
<rect x="1372.08" y="2264.27" width="12.26" height="94.13" fill="url(#h3)"/>
<rect x="1402.74" y="2340.69" width="12.26" height="17.71" fill="#e1812c"/>
<rect x="1402.74" y="2340.69" width="12.26" height="17.71" fill="url(#h3)"/>
<rect x="1433.39" y="2335.63" width="12.26" height="22.77" fill="#e1812c"/>
<rect x="1433.39" y="2335.63" width="12.26" height="22.77" fill="url(#h3)"/>
<rect x="1464.05" y="2340.69" width="12.26" height="17.71" fill="#e1812c"/>
<rect x="1464.05" y="2340.69" width="12.26" height="17.71" fill="url(#h3)"/>
<rect x="1494.71" y="2349.63" width="12.26" height="8.77" fill="#e1812c"/>
<rect x="1494.71" y="2349.63" width="12.26" height="8.77" fill="url(#h3)"/>
<rect x="1525.37" y="2354.01" width="12.26" height="4.39" fill="#e1812c"/>
<rect x="1525.37" y="2354.01" width="12.26" height="4.39" fill="url(#h3)"/>
<rect x="1586.68" y="2354.01" width="12.26" height="4.39" fill="#e1812c"/>
<rect x="1586.68" y="2354.01" width="12.26" height="4.39" fill="url(#h3)"/>
<rect x="1617.34" y="2335.29" width="12.26" height="23.11" fill="#e1812c"/>
<rect x="1617.34" y="2335.29" width="12.26" height="23.11" fill="url(#h3)"/>
<rect x="1648" y="2344.9" width="12.26" height="13.5" fill="#e1812c"/>
<rect x="1648" y="2344.9" width="12.26" height="13.5" fill="url(#h3)"/>
<rect x="1678.66" y="2354.01" width="12.26" height="4.39" fill="#e1812c"/>
<rect x="1678.66" y="2354.01" width="12.26" height="4.39" fill="url(#h3)"/>
<rect x="1709.32" y="2354.01" width="12.26" height="4.39" fill="#e1812c"/>
<rect x="1709.32" y="2354.01" width="12.26" height="4.39" fill="url(#h3)"/>
<rect x="1770.63" y="2340.35" width="12.26" height="18.05" fill="#e1812c"/>
<rect x="1770.63" y="2340.35" width="12.26" height="18.05" fill="url(#h3)"/>
<rect x="1862.61" y="2354.01" width="12.26" height="4.39" fill="#e1812c"/>
<rect x="1862.61" y="2354.01" width="12.26" height="4.39" fill="url(#h3)"/>
<path d="M1172.33,1814.6H2123.67M1172.33,2358.4H2123.67" stroke="#000000" stroke-width="1.05" fill="none"/>
<path d="M1172.8,1814.07V2358.93M2123.2,1814.07V2358.93" stroke="#000000" stroke-width="0.95" fill="none"/>
<line x1="1167.5" y1="2358.4" x2="1172.8" y2="2358.4" stroke="#000000" stroke-width="1.05"/>
<text x="1162.5" y="2367.4" font-family='"DejaVu Sans", sans-serif' font-size="23.8" text-anchor="end">0.00</text>
<line x1="1167.5" y1="2274.05" x2="1172.8" y2="2274.05" stroke="#000000" stroke-width="1.05"/>
<text x="1162.5" y="2283.05" font-family='"DejaVu Sans", sans-serif' font-size="23.8" text-anchor="end">0.05</text>
<line x1="1167.5" y1="2189.7" x2="1172.8" y2="2189.7" stroke="#000000" stroke-width="1.05"/>
<text x="1162.5" y="2198.7" font-family='"DejaVu Sans", sans-serif' font-size="23.8" text-anchor="end">0.10</text>
<line x1="1167.5" y1="2105.35" x2="1172.8" y2="2105.35" stroke="#000000" stroke-width="1.05"/>
<text x="1162.5" y="2114.35" font-family='"DejaVu Sans", sans-serif' font-size="23.8" text-anchor="end">0.15</text>
<line x1="1167.5" y1="2021" x2="1172.8" y2="2021" stroke="#000000" stroke-width="1.05"/>
<text x="1162.5" y="2030" font-family='"DejaVu Sans", sans-serif' font-size="23.8" text-anchor="end">0.20</text>
<line x1="1167.5" y1="1936.65" x2="1172.8" y2="1936.65" stroke="#000000" stroke-width="1.05"/>
<text x="1162.5" y="1945.65" font-family='"DejaVu Sans", sans-serif' font-size="23.8" text-anchor="end">0.25</text>
<line x1="1167.5" y1="1852.3" x2="1172.8" y2="1852.3" stroke="#000000" stroke-width="1.05"/>
<text x="1162.5" y="1861.3" font-family='"DejaVu Sans", sans-serif' font-size="23.8" text-anchor="end">0.30</text>
<line x1="1188.13" y1="2358.4" x2="1188.13" y2="2363.7" stroke="#000000" stroke-width="0.95"/>
<text x="1188.13" y="2387.2" font-family='"DejaVu Sans", sans-serif' font-size="23.8" text-anchor="middle">0</text>
<line x1="1218.79" y1="2358.4" x2="1218.79" y2="2363.7" stroke="#000000" stroke-width="0.95"/>
<text x="1218.79" y="2387.2" font-family='"DejaVu Sans", sans-serif' font-size="23.8" text-anchor="middle">1</text>
<line x1="1249.45" y1="2358.4" x2="1249.45" y2="2363.7" stroke="#000000" stroke-width="0.95"/>
<text x="1249.45" y="2387.2" font-family='"DejaVu Sans", sans-serif' font-size="23.8" text-anchor="middle">2</text>
<line x1="1280.1" y1="2358.4" x2="1280.1" y2="2363.7" stroke="#000000" stroke-width="0.95"/>
<text x="1280.1" y="2387.2" font-family='"DejaVu Sans", sans-serif' font-size="23.8" text-anchor="middle">3</text>
<line x1="1310.76" y1="2358.4" x2="1310.76" y2="2363.7" stroke="#000000" stroke-width="0.95"/>
<text x="1310.76" y="2387.2" font-family='"DejaVu Sans", sans-serif' font-size="23.8" text-anchor="middle">4</text>
<line x1="1341.42" y1="2358.4" x2="1341.42" y2="2363.7" stroke="#000000" stroke-width="0.95"/>
<text x="1341.42" y="2387.2" font-family='"DejaVu Sans", sans-serif' font-size="23.8" text-anchor="middle">5</text>
<line x1="1372.08" y1="2358.4" x2="1372.08" y2="2363.7" stroke="#000000" stroke-width="0.95"/>
<text x="1372.08" y="2387.2" font-family='"DejaVu Sans", sans-serif' font-size="23.8" text-anchor="middle">6</text>
<line x1="1402.74" y1="2358.4" x2="1402.74" y2="2363.7" stroke="#000000" stroke-width="0.95"/>
<text x="1402.74" y="2387.2" font-family='"DejaVu Sans", sans-serif' font-size="23.8" text-anchor="middle">7</text>
<line x1="1433.39" y1="2358.4" x2="1433.39" y2="2363.7" stroke="#000000" stroke-width="0.95"/>
<text x="1433.39" y="2387.2" font-family='"DejaVu Sans", sans-serif' font-size="23.8" text-anchor="middle">8</text>
<line x1="1464.05" y1="2358.4" x2="1464.05" y2="2363.7" stroke="#000000" stroke-width="0.95"/>
<text x="1464.05" y="2387.2" font-family='"DejaVu Sans", sans-serif' font-size="23.8" text-anchor="middle">9</text>
<line x1="1494.71" y1="2358.4" x2="1494.71" y2="2363.7" stroke="#000000" stroke-width="0.95"/>
<text x="1494.71" y="2387.2" font-family='"DejaVu Sans", sans-serif' font-size="23.8" text-anchor="middle">10</text>
<line x1="1525.37" y1="2358.4" x2="1525.37" y2="2363.7" stroke="#000000" stroke-width="0.95"/>
<text x="1525.37" y="2387.2" font-family='"DejaVu Sans", sans-serif' font-size="23.8" text-anchor="middle">11</text>
<line x1="1556.03" y1="2358.4" x2="1556.03" y2="2363.7" stroke="#000000" stroke-width="0.95"/>
<text x="1556.03" y="2387.2" font-family='"DejaVu Sans", sans-serif' font-size="23.8" text-anchor="middle">12</text>
<line x1="1586.68" y1="2358.4" x2="1586.68" y2="2363.7" stroke="#000000" stroke-width="0.95"/>
<text x="1586.68" y="2387.2" font-family='"DejaVu Sans", sans-serif' font-size="23.8" text-anchor="middle">13</text>
<line x1="1617.34" y1="2358.4" x2="1617.34" y2="2363.7" stroke="#000000" stroke-width="0.95"/>
<text x="1617.34" y="2387.2" font-family='"DejaVu Sans", sans-serif' font-size="23.8" text-anchor="middle">14</text>
<line x1="1648" y1="2358.4" x2="1648" y2="2363.7" stroke="#000000" stroke-width="0.95"/>
<text x="1648" y="2387.2" font-family='"DejaVu Sans", sans-serif' font-size="23.8" text-anchor="middle">15</text>
<line x1="1678.66" y1="2358.4" x2="1678.66" y2="2363.7" stroke="#000000" stroke-width="0.95"/>
<text x="1678.66" y="2387.2" font-family='"DejaVu Sans", sans-serif' font-size="23.8" text-anchor="middle">16</text>
<line x1="1709.32" y1="2358.4" x2="1709.32" y2="2363.7" stroke="#000000" stroke-width="0.95"/>
<text x="1709.32" y="2387.2" font-family='"DejaVu Sans", sans-serif' font-size="23.8" text-anchor="middle">17</text>
<line x1="1739.97" y1="2358.4" x2="1739.97" y2="2363.7" stroke="#000000" stroke-width="0.95"/>
<text x="1739.97" y="2387.2" font-family='"DejaVu Sans", sans-serif' font-size="23.8" text-anchor="middle">18</text>
<line x1="1770.63" y1="2358.4" x2="1770.63" y2="2363.7" stroke="#000000" stroke-width="0.95"/>
<text x="1770.63" y="2387.2" font-family='"DejaVu Sans", sans-serif' font-size="23.8" text-anchor="middle">19</text>
<line x1="1801.29" y1="2358.4" x2="1801.29" y2="2363.7" stroke="#000000" stroke-width="0.95"/>
<text x="1801.29" y="2387.2" font-family='"DejaVu Sans", sans-serif' font-size="23.8" text-anchor="middle">20</text>
<line x1="1831.95" y1="2358.4" x2="1831.95" y2="2363.7" stroke="#000000" stroke-width="0.95"/>
<text x="1831.95" y="2387.2" font-family='"DejaVu Sans", sans-serif' font-size="23.8" text-anchor="middle">21</text>
<line x1="1862.61" y1="2358.4" x2="1862.61" y2="2363.7" stroke="#000000" stroke-width="0.95"/>
<text x="1862.61" y="2387.2" font-family='"DejaVu Sans", sans-serif' font-size="23.8" text-anchor="middle">22</text>
<line x1="1893.26" y1="2358.4" x2="1893.26" y2="2363.7" stroke="#000000" stroke-width="0.95"/>
<text x="1893.26" y="2387.2" font-family='"DejaVu Sans", sans-serif' font-size="23.8" text-anchor="middle">23</text>
<line x1="1923.92" y1="2358.4" x2="1923.92" y2="2363.7" stroke="#000000" stroke-width="0.95"/>
<text x="1923.92" y="2387.2" font-family='"DejaVu Sans", sans-serif' font-size="23.8" text-anchor="middle">24</text>
<line x1="1954.58" y1="2358.4" x2="1954.58" y2="2363.7" stroke="#000000" stroke-width="0.95"/>
<text x="1954.58" y="2387.2" font-family='"DejaVu Sans", sans-serif' font-size="23.8" text-anchor="middle">25</text>
<line x1="1985.24" y1="2358.4" x2="1985.24" y2="2363.7" stroke="#000000" stroke-width="0.95"/>
<text x="1985.24" y="2387.2" font-family='"DejaVu Sans", sans-serif' font-size="23.8" text-anchor="middle">26</text>
<line x1="2015.9" y1="2358.4" x2="2015.9" y2="2363.7" stroke="#000000" stroke-width="0.95"/>
<text x="2015.9" y="2387.2" font-family='"DejaVu Sans", sans-serif' font-size="23.8" text-anchor="middle">27</text>
<line x1="2046.55" y1="2358.4" x2="2046.55" y2="2363.7" stroke="#000000" stroke-width="0.95"/>
<text x="2046.55" y="2387.2" font-family='"DejaVu Sans", sans-serif' font-size="23.8" text-anchor="middle">28</text>
<line x1="2077.21" y1="2358.4" x2="2077.21" y2="2363.7" stroke="#000000" stroke-width="0.95"/>
<text x="2077.21" y="2387.2" font-family='"DejaVu Sans", sans-serif' font-size="23.8" text-anchor="middle">29</text>
<line x1="2107.87" y1="2358.4" x2="2107.87" y2="2363.7" stroke="#000000" stroke-width="0.95"/>
<text x="2107.87" y="2387.2" font-family='"DejaVu Sans", sans-serif' font-size="23.8" text-anchor="middle">30</text>
<text x="1648" y="2418.3" font-family='"DejaVu Sans", sans-serif' font-size="26.6" text-anchor="middle">Time [0.1s]</text>
<text transform="translate(1100.3,2089) rotate(-90)" font-family='"DejaVu Sans", sans-serif' font-size="26.6" text-anchor="middle">Ratio</text>
<text transform="translate(314.83,46.5) scale(1,1.03)" font-family='"Liberation Sans", Arial, sans-serif' font-size="39.85">Histogram of detection time</text>
<text transform="translate(1469.33,46.5) scale(1,1.03)" font-family='"Liberation Sans", Arial, sans-serif' font-size="39.85">Ratio of detection time</text>
<text transform="translate(331.73,921.1) scale(1,1.03)" font-family='"Liberation Sans", Arial, sans-serif' font-size="39.85">Histogram of detection time</text>
<text transform="translate(1486.13,921.1) scale(1,1.03)" font-family='"Liberation Sans", Arial, sans-serif' font-size="39.85">Ratio of detection time</text>
<text transform="translate(331.73,1796.1) scale(1,1.03)" font-family='"Liberation Sans", Arial, sans-serif' font-size="39.85">Histogram of detection time</text>
<text transform="translate(1486.13,1796.1) scale(1,1.03)" font-family='"Liberation Sans", Arial, sans-serif' font-size="39.85">Ratio of detection time</text>
<rect x="891.8" y="77.4" width="140.6" height="41.6" rx="4.5" ry="4.5" fill="#ffffff" fill-opacity="0.8" stroke="#cccccc" stroke-width="1.35"/>
<rect x="894.7" y="89.2" width="62.1" height="14.4" fill="#1f77b4"/>
<text x="968.3" y="104.8" font-family='"DejaVu Sans", sans-serif' font-size="23.7" text-anchor="start">Total</text>
<rect x="1838.6" y="77.5" width="255.8" height="76.3" rx="4.5" ry="4.5" fill="#ffffff" fill-opacity="0.8" stroke="#cccccc" stroke-width="1.35"/>
<rect x="1847.6" y="88" width="47.9" height="16.9" fill="#3a923a"/>
<rect x="1847.6" y="123.1" width="47.9" height="16.9" fill="#e1812c"/>
<rect x="1847.6" y="123.1" width="47.9" height="16.9" fill="url(#h1)"/>
<text x="1913.67" y="104.9" font-family='"DejaVu Sans", sans-serif' font-size="23.7" text-anchor="start">Hands off-&gt;on</text>
<text x="1913.67" y="140" font-family='"DejaVu Sans", sans-serif' font-size="23.7" text-anchor="start">Hands on-&gt;off</text>
<rect x="908.4" y="952.5" width="140.3" height="41.4" rx="4.5" ry="4.5" fill="#ffffff" fill-opacity="0.8" stroke="#cccccc" stroke-width="1.35"/>
<rect x="910.4" y="964.3" width="61.4" height="14.1" fill="#1f77b4"/>
<text x="985.3" y="980.1" font-family='"DejaVu Sans", sans-serif' font-size="23.7" text-anchor="start">Total</text>
<rect x="1855.1" y="952.8" width="256" height="76.6" rx="4.5" ry="4.5" fill="#ffffff" fill-opacity="0.8" stroke="#cccccc" stroke-width="1.35"/>
<rect x="1863.9" y="963.3" width="47.4" height="16.1" fill="#3a923a"/>
<rect x="1863.9" y="998.5" width="47.4" height="16.1" fill="#e1812c"/>
<rect x="1863.9" y="998.5" width="47.4" height="16.1" fill="url(#h2)"/>
<text x="1930.07" y="979.4" font-family='"DejaVu Sans", sans-serif' font-size="23.7" text-anchor="start">Hands off-&gt;on</text>
<text x="1930.07" y="1014.6" font-family='"DejaVu Sans", sans-serif' font-size="23.7" text-anchor="start">Hands on-&gt;off</text>
<rect x="908.7" y="1826.9" width="140.9" height="41.6" rx="4.5" ry="4.5" fill="#ffffff" fill-opacity="0.8" stroke="#cccccc" stroke-width="1.35"/>
<rect x="910.9" y="1839" width="62.1" height="13.9" fill="#1f77b4"/>
<text x="985.5" y="1854.1" font-family='"DejaVu Sans", sans-serif' font-size="23.7" text-anchor="start">Total</text>
<rect x="1854.9" y="1827.1" width="256.2" height="76.2" rx="4.5" ry="4.5" fill="#ffffff" fill-opacity="0.8" stroke="#cccccc" stroke-width="1.35"/>
<rect x="1863.9" y="1837.6" width="47.4" height="16.4" fill="#3a923a"/>
<rect x="1863.9" y="1872.8" width="47.4" height="16.4" fill="#e1812c"/>
<rect x="1863.9" y="1872.8" width="47.4" height="16.4" fill="url(#h3)"/>
<text x="1930.07" y="1854" font-family='"DejaVu Sans", sans-serif' font-size="23.7" text-anchor="start">Hands off-&gt;on</text>
<text x="1930.07" y="1889.2" font-family='"DejaVu Sans", sans-serif' font-size="23.7" text-anchor="start">Hands on-&gt;off</text>
<rect x="896" y="1800" width="122.1" height="46.1" fill="#ffffff"/>
<rect x="901.2" y="1807.4" width="112" height="32.8" rx="4" ry="4" fill="#ffffff" stroke="#cccccc" stroke-width="1.1"/>
<rect x="908.7" y="1816.2" width="37.8" height="12.9" fill="#3274a1"/>
<text x="962.4" y="1829.2" font-family='"DejaVu Sans", sans-serif' font-size="18.7" text-anchor="start">Total</text>
<text x="793.1" y="784.2" font-family='"Liberation Serif", serif' font-size="63.7" textLength="18.15" lengthAdjust="spacingAndGlyphs">(</text>
<text x="811.27" y="784.2" font-family='"Liberation Serif", serif' font-size="63.7" font-weight="bold" textLength="28.39" lengthAdjust="spacingAndGlyphs">a</text>
<text x="841.41" y="784.2" font-family='"Liberation Serif", serif' font-size="63.7" textLength="18.54" lengthAdjust="spacingAndGlyphs">)</text>
<text x="875.31" y="784.2" font-family='"Liberation Serif", serif' font-size="63.7" textLength="255.08" lengthAdjust="spacingAndGlyphs">Detection</text>
<text x="1145.55" y="784.2" font-family='"Liberation Serif", serif' font-size="63.7" textLength="118.56" lengthAdjust="spacingAndGlyphs">time</text>
<text x="1278.4" y="784.2" font-family='"Liberation Serif", serif' font-size="63.7" textLength="122.68" lengthAdjust="spacingAndGlyphs">limit</text>
<text x="1417.69" y="784.2" font-family='"Liberation Serif", serif' font-size="63.7" textLength="52.23" lengthAdjust="spacingAndGlyphs">in</text>
<text x="1483.23" y="784.2" font-family='"Liberation Serif", serif' font-size="63.7" textLength="29.97" lengthAdjust="spacingAndGlyphs">1</text>
<text x="1528.83" y="784.2" font-family='"Liberation Serif", serif' font-size="63.7" textLength="26.32" lengthAdjust="spacingAndGlyphs">s</text>
<text x="806.7" y="1658.8" font-family='"Liberation Serif", serif' font-size="63.7" textLength="18.15" lengthAdjust="spacingAndGlyphs">(</text>
<text x="828.47" y="1658.8" font-family='"Liberation Serif", serif' font-size="63.7" font-weight="bold" textLength="32.07" lengthAdjust="spacingAndGlyphs">b</text>
<text x="861.11" y="1658.8" font-family='"Liberation Serif", serif' font-size="63.7" textLength="18.54" lengthAdjust="spacingAndGlyphs">)</text>
<text x="897.31" y="1658.8" font-family='"Liberation Serif", serif' font-size="63.7" textLength="255.08" lengthAdjust="spacingAndGlyphs">Detection</text>
<text x="1165.25" y="1658.8" font-family='"Liberation Serif", serif' font-size="63.7" textLength="118.56" lengthAdjust="spacingAndGlyphs">time</text>
<text x="1298.39" y="1658.8" font-family='"Liberation Serif", serif' font-size="63.7" textLength="123.29" lengthAdjust="spacingAndGlyphs">limit</text>
<text x="1437.36" y="1658.8" font-family='"Liberation Serif", serif' font-size="63.7" textLength="53.38" lengthAdjust="spacingAndGlyphs">in</text>
<text x="1503.15" y="1658.8" font-family='"Liberation Serif", serif' font-size="63.7" textLength="33.55" lengthAdjust="spacingAndGlyphs">2</text>
<text x="1547.76" y="1658.8" font-family='"Liberation Serif", serif' font-size="63.7" textLength="26.94" lengthAdjust="spacingAndGlyphs">s</text>
<text x="811.7" y="2535" font-family='"Liberation Serif", serif' font-size="63.7" textLength="18.15" lengthAdjust="spacingAndGlyphs">(</text>
<text x="829.87" y="2535" font-family='"Liberation Serif", serif' font-size="63.7" font-weight="bold" textLength="26.3" lengthAdjust="spacingAndGlyphs">c</text>
<text x="856.71" y="2535" font-family='"Liberation Serif", serif' font-size="63.7" textLength="18.54" lengthAdjust="spacingAndGlyphs">)</text>
<text x="892.71" y="2535" font-family='"Liberation Serif", serif' font-size="63.7" textLength="255.08" lengthAdjust="spacingAndGlyphs">Detection</text>
<text x="1159.55" y="2535" font-family='"Liberation Serif", serif' font-size="63.7" textLength="118.56" lengthAdjust="spacingAndGlyphs">time</text>
<text x="1293.9" y="2535" font-family='"Liberation Serif", serif' font-size="63.7" textLength="122.98" lengthAdjust="spacingAndGlyphs">limit</text>
<text x="1432.88" y="2535" font-family='"Liberation Serif", serif' font-size="63.7" textLength="52.54" lengthAdjust="spacingAndGlyphs">in</text>
<text x="1498.37" y="2535" font-family='"Liberation Serif", serif' font-size="63.7" textLength="32.68" lengthAdjust="spacingAndGlyphs">3</text>
<text x="1543.94" y="2535" font-family='"Liberation Serif", serif' font-size="63.7" textLength="26.19" lengthAdjust="spacingAndGlyphs">s</text></svg>
</body></html>
